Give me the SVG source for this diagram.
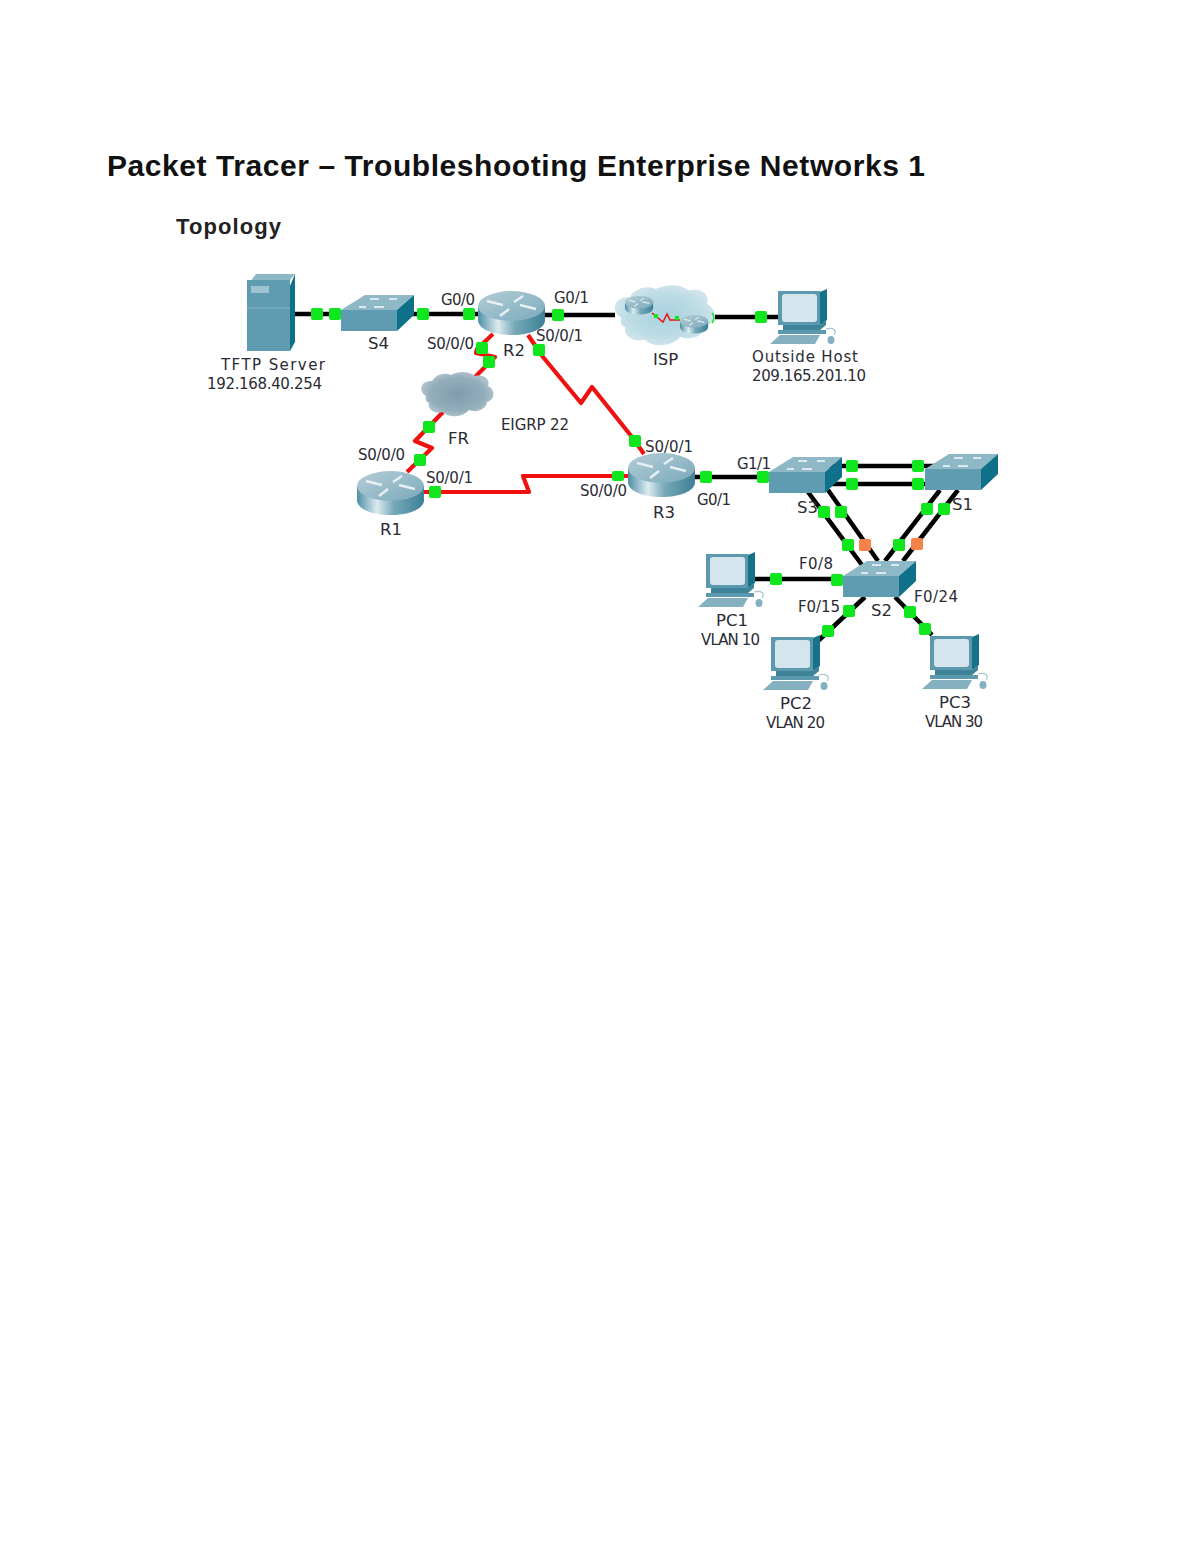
<svg xmlns="http://www.w3.org/2000/svg" width="1200" height="1553" viewBox="0 0 1200 1553">
<style>
.bg{fill:#fff}
.h1{font:bold 30px "Liberation Sans",Arial,sans-serif;fill:#111}
.h2{font:bold 22px "Liberation Sans",Arial,sans-serif;fill:#222}
.l{font:15px "DejaVu Sans","Liberation Sans",sans-serif;fill:#2b2b33}
.n{font:16.500px "DejaVu Sans","Liberation Sans",sans-serif;fill:#2b2b33}
.k{fill:none;stroke:#000;stroke-width:4.500;stroke-linejoin:round}
.r{fill:none;stroke:#f01010;stroke-width:4.200;stroke-linejoin:round}
.g{fill:#0fe61e}
.o{fill:#f5824a}
</style>
<defs>
<linearGradient id="rb" x1="0" x2="1" y1="0" y2="0"><stop offset="0" stop-color="#4f8fa5"/><stop offset=".3" stop-color="#dcebf0"/><stop offset=".55" stop-color="#76a8b9"/><stop offset="1" stop-color="#3d8096"/></linearGradient>
<linearGradient id="rt" x1="0" x2="1" y1="0" y2="1"><stop offset="0" stop-color="#b5ced8"/><stop offset="1" stop-color="#7aa9ba"/></linearGradient>
<radialGradient id="cg"><stop offset="0" stop-color="#7f9dae"/><stop offset=".75" stop-color="#93adbb"/><stop offset="1" stop-color="#aec1cb"/></radialGradient>
<radialGradient id="ci"><stop offset="0" stop-color="#a9d2df"/><stop offset=".7" stop-color="#bcdbe5"/><stop offset="1" stop-color="#cfe4eb"/></radialGradient>
<symbol id="router" width="67" height="44" viewBox="0 0 67 44" overflow="visible">
<path d="M0 15V29C0 38 15 44 33.500 44S67 38 67 29V15Z" fill="url(#rb)"/>
<ellipse cx="33.500" cy="15" rx="33.500" ry="15" fill="url(#rt)"/>
<path d="M9 10L25 14M58 18L42 14M22 25L31 18M45 5L36 11" stroke="#e6f0f3" stroke-width="2.500" fill="none"/>
</symbol>
<symbol id="switch" width="73" height="36" viewBox="0 0 73 36" overflow="visible">
<path d="M0 15L24 0H73L56 15Z" fill="#8fb8c7"/>
<rect y="15" width="56" height="21" fill="#5f9cb1"/>
<path d="M56 15L73 0V20L56 36Z" fill="#0f7189"/>
<path d="M18 12h7M33 12h10M29 4h9M48 4h8" stroke="#dbe9ee" stroke-width="2"/>
</symbol>
<symbol id="pc" width="67" height="56" viewBox="0 0 67 56" overflow="visible">
<path d="M50 3L57 0V31L50 36Z" fill="#167289"/>
<rect x="8" y="2" width="42" height="34" fill="#5d99ae"/>
<rect x="12" y="5" width="35" height="28" rx="3" fill="#d4e5ed"/>
<path d="M13 36H50L56 31V36L50 41H13Z" fill="#3f8399"/>
<path d="M8 41H56V45H8Z" fill="#5d99ae"/>
<path d="M0 55L10 46H50L45 55Z" fill="#85b0c0"/>
<path d="M56 40C64 38 67 42 64 46" fill="none" stroke="#a8c5cf" stroke-width="1.200"/>
<ellipse cx="61" cy="51" rx="3.500" ry="4" fill="#85b0c0"/>
</symbol>
<path id="cloud" d="M6 24C-3 18 2 8 12 9C16 2 25 0 31 3C38-1 49-1 55 4C63 2 71 7 68 14C76 18 75 28 67 30C66 38 56 41 49 38C42 46 28 46 23 40C14 43 7 36 9 31C6 30 5 27 6 24Z"/>
</defs>
<rect class="bg" width="1200" height="1553"/>
<text class="h1" x="107" y="176" textLength="818">Packet Tracer – Troubleshooting Enterprise Networks 1</text>
<text class="h2" x="176" y="234" textLength="105">Topology</text>
<g id="connectors">
<path class="k" d="M295 314H341M397 314H478M545 315H615M715 317H780M695 477H770M830 466H935M815 484H925M808 492L862 565M828 490L878 561M940 490L885 561M958 490L903 561M755 579H843M865 597L818 641M895 597L932 635"/>
<path class="r" d="M493 334L477 349L476 353L495 357L475 377M443 412L415 441L432 448L407 472M528 335L543 357L581 403L592 387L632 437L644 454M420 492H529L523 476H628"/>
<g class="g">
<rect x="311" y="308" width="12" height="12" rx="2"/><rect x="329" y="308" width="12" height="12" rx="2"/>
<rect x="417" y="308" width="12" height="12" rx="2"/><rect x="463" y="308" width="12" height="12" rx="2"/>
<rect x="552" y="309" width="12" height="12" rx="2"/><rect x="755" y="311" width="12" height="12" rx="2"/>
<rect x="476" y="342" width="12" height="12" rx="2"/><rect x="483" y="356" width="12" height="12" rx="2"/>
<rect x="533" y="344" width="12" height="12" rx="2"/><rect x="423" y="421" width="12" height="12" rx="2"/>
<rect x="414" y="454" width="12" height="12" rx="2"/><rect x="429" y="486" width="12" height="12" rx="2"/>
<rect x="612" y="471" width="12" height="10" rx="2"/><rect x="629" y="435" width="12" height="12" rx="2"/>
<rect x="700" y="471" width="12" height="12" rx="2"/><rect x="757" y="471" width="12" height="12" rx="2"/>
<rect x="846" y="460" width="12" height="12" rx="2"/><rect x="912" y="460" width="12" height="12" rx="2"/>
<rect x="846" y="478" width="12" height="12" rx="2"/><rect x="912" y="478" width="12" height="12" rx="2"/>
<rect x="818" y="506" width="12" height="12" rx="2"/><rect x="835" y="506" width="12" height="12" rx="2"/>
<rect x="921" y="503" width="12" height="12" rx="2"/><rect x="938" y="503" width="12" height="12" rx="2"/>
<rect x="842" y="539" width="12" height="12" rx="2"/><rect x="893" y="539" width="12" height="12" rx="2"/>
<rect x="770" y="573" width="12" height="12" rx="2"/><rect x="831" y="574" width="12" height="12" rx="2"/>
<rect x="843" y="605" width="12" height="12" rx="2"/><rect x="822" y="625" width="12" height="12" rx="2"/>
<rect x="904" y="606" width="12" height="12" rx="2"/><rect x="919" y="623" width="12" height="12" rx="2"/>
</g>
<g class="o"><rect x="859" y="539" width="12" height="12" rx="2"/><rect x="911" y="538" width="12" height="12" rx="2"/></g>
</g>
<g id="tftp-server">
<path d="M247 286L256 274H295L290 280Z" fill="#8fb8c7"/><path d="M290 286L295 274V342L290 351Z" fill="#0f7189"/>
<rect x="247" y="280" width="43" height="71" fill="#5f9cb1"/>
<rect x="251" y="286" width="18" height="7" fill="#9fc4d1"/><path d="M247 308H290" stroke="#76abbd" stroke-width="1.500"/>
<text class="l" x="221" y="370" textLength="104">TFTP Server</text><text class="l" x="207" y="389" textLength="115">192.168.40.254</text>
</g>
<g id="s4"><use href="#switch" x="341" y="295"/><text class="n" x="368" y="349">S4</text></g>
<g id="r2"><use href="#router" x="478" y="291"/><text class="n" x="503" y="356">R2</text></g>
<g id="r1"><use href="#router" x="357" y="471"/><text class="n" x="380" y="535">R1</text></g>
<g id="r3"><use href="#router" x="628" y="453"/><text class="n" x="653" y="518">R3</text></g>
<g id="fr"><use href="#cloud" x="420" y="372" fill="url(#cg)"/><text class="n" x="448" y="444">FR</text></g>
<g id="isp">
<g transform="translate(613 285) scale(1.380 1.360)"><use href="#cloud" fill="url(#ci)"/></g>
<path d="M712 313Q716 318 712 323" fill="none" stroke="#0fe61e" stroke-width="1.500"/>
<use href="#router" transform="translate(625 296) scale(.42)"/><use href="#router" transform="translate(680 315) scale(.42)"/>
<path d="M652 313L663 322L667 314L670 320L680 320" fill="none" stroke="#f01010" stroke-width="1.500"/>
<rect x="654" y="314" width="4" height="4" class="g"/><rect x="675" y="316" width="4" height="4" class="g"/>
<text class="n" x="653" y="365">ISP</text>
</g>
<g id="outside-host"><use href="#pc" x="770" y="289"/><text class="l" x="752" y="362" textLength="106">Outside Host</text><text class="l" x="752" y="381" textLength="114">209.165.201.10</text></g>
<g id="s3"><use href="#switch" x="769" y="457"/><text class="n" x="797" y="513">S3</text></g>
<g id="s1"><use href="#switch" x="925" y="454"/><text class="n" x="952" y="510">S1</text></g>
<g id="s2"><use href="#switch" x="843" y="561"/><text class="n" x="871" y="616">S2</text></g>
<g id="pc1"><use href="#pc" x="698" y="552"/><text class="n" x="716" y="626">PC1</text><text class="l" x="701" y="645" textLength="59">VLAN 10</text></g>
<g id="pc2"><use href="#pc" x="763" y="635"/><text class="n" x="780" y="709">PC2</text><text class="l" x="766" y="728" textLength="59">VLAN 20</text></g>
<g id="pc3"><use href="#pc" x="922" y="634"/><text class="n" x="939" y="708">PC3</text><text class="l" x="925" y="727" textLength="58">VLAN 30</text></g>
<g id="labels">
<text class="l" x="441" y="305" textLength="34">G0/0</text>
<text class="l" x="554" y="303" textLength="35">G0/1</text>
<text class="l" x="427" y="349" textLength="47">S0/0/0</text>
<text class="l" x="536" y="341" textLength="47">S0/0/1</text>
<text class="l" x="501" y="430" textLength="68">EIGRP 22</text>
<text class="l" x="358" y="460" textLength="47">S0/0/0</text>
<text class="l" x="426" y="483" textLength="47">S0/0/1</text>
<text class="l" x="580" y="496" textLength="47">S0/0/0</text>
<text class="l" x="645" y="452" textLength="48">S0/0/1</text>
<text class="l" x="697" y="505" textLength="34">G0/1</text>
<text class="l" x="737" y="469" textLength="34">G1/1</text>
<text class="l" x="799" y="569" textLength="34">F0/8</text>
<text class="l" x="798" y="612" textLength="42">F0/15</text>
<text class="l" x="914" y="602" textLength="44">F0/24</text>
</g>
</svg>
